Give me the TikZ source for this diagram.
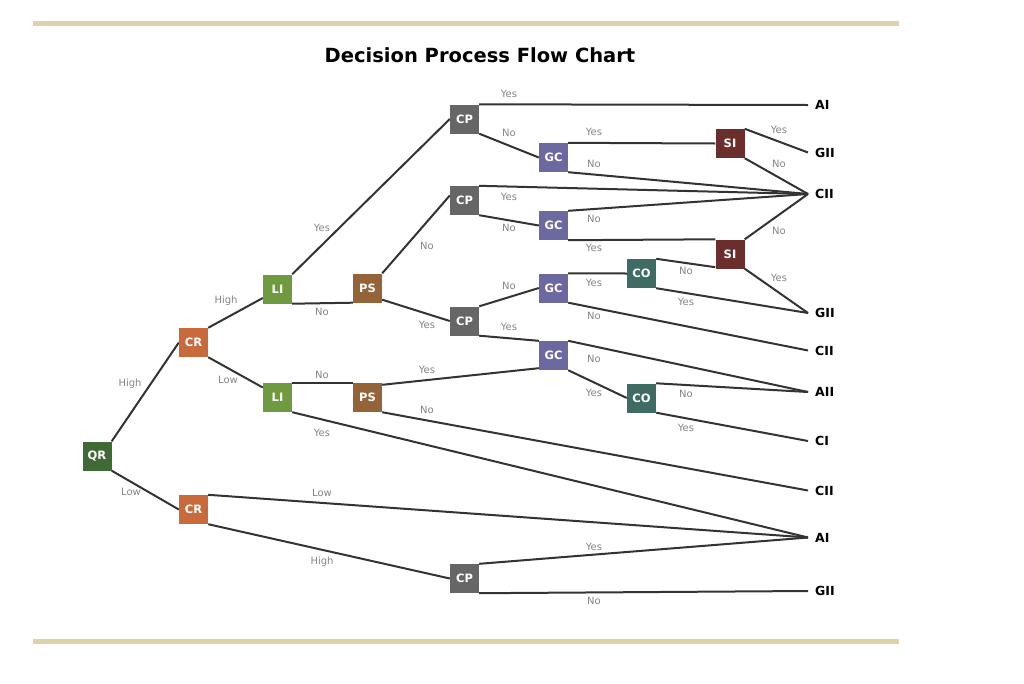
\documentclass[tikz,border=0pt]{standalone}
\usepackage{fontspec}
\setmainfont{DejaVu Sans}
\usetikzlibrary{calc}
\pgfdeclarelayer{back}
\pgfdeclarelayer{bg}
\pgfsetlayers{back,bg,main}
\definecolor{cQR}{HTML}{3F6A35}
\definecolor{cCR}{HTML}{C86A3B}
\definecolor{cLI}{HTML}{6F9A40}
\definecolor{cPS}{HTML}{946337}
\definecolor{cCP}{HTML}{666666}
\definecolor{cGC}{HTML}{6C68A0}
\definecolor{cCO}{HTML}{3E6B63}
\definecolor{cSI}{HTML}{6A2F2D}
\definecolor{rule}{HTML}{DCD3A9}
\definecolor{edgec}{HTML}{333333}
\definecolor{lblc}{HTML}{858585}
\tikzset{
  box/.style={fill=#1, minimum size=29pt, inner sep=0pt, text=white,
    font=\fontsize{11.5}{11.5}\selectfont\bfseries},
  term/.style={anchor=west, inner xsep=7pt, inner ysep=0pt,
    font=\fontsize{12.5}{12.5}\selectfont\bfseries},
  conn/.style={draw=edgec, line width=2pt},
  lbl/.style={text=lblc, font=\fontsize{10}{10}\selectfont, inner sep=0pt},
  rulel/.style={draw=rule, line width=5pt},
}
\begin{document}
\begin{tikzpicture}[x=1pt,y=-1pt]
\useasboundingbox (0,0) rectangle (1024,683);
\begin{pgfonlayer}{back}
\fill[white] (0,0) rectangle (1024,683);
\end{pgfonlayer}
\draw[rulel] (33,23.5) -- (899,23.5);
\draw[rulel] (33,641) -- (899,641);
\node[font=\fontsize{19.5}{19.5}\selectfont\bfseries] (title) at (480,55) {Decision Process Flow Chart};

% decision boxes
\node[box=cQR] (QR) at (97,456) {QR};
\node[box=cCR] (CRa) at (193.5,342.5) {CR};
\node[box=cCR] (CRb) at (193.5,509.5) {CR};
\node[box=cLI] (LIa) at (277.5,289) {LI};
\node[box=cLI] (LIb) at (277.5,397.5) {LI};
\node[box=cPS] (PSa) at (367.5,288) {PS};
\node[box=cPS] (PSb) at (367.5,397.5) {PS};
\node[box=cCP] (CPa) at (464.5,119) {CP};
\node[box=cCP] (CPb) at (464.5,200.5) {CP};
\node[box=cCP] (CPc) at (464.5,321) {CP};
\node[box=cCP] (CPd) at (464.5,578.5) {CP};
\node[box=cGC] (GCa) at (553.5,157.5) {GC};
\node[box=cGC] (GCb) at (553.5,225.5) {GC};
\node[box=cGC] (GCc) at (553.5,288) {GC};
\node[box=cGC] (GCd) at (553.5,355.5) {GC};
\node[box=cCO] (COa) at (641.5,273.5) {CO};
\node[box=cCO] (COb) at (641.5,398) {CO};
\node[box=cSI] (SIa) at (730,143.5) {SI};
\node[box=cSI] (SIb) at (730,254) {SI};

% outcomes
\node[term] (T1) at (808,105) {AI};
\node[term] (T2) at (808,152.5) {GII};
\node[term] (T3) at (808,194) {CII};
\node[term] (T4) at (808,313) {GII};
\node[term] (T5) at (808,350.5) {CII};
\node[term] (T6) at (808,392) {AII};
\node[term] (T7) at (808,441) {CI};
\node[term] (T8) at (808,490.5) {CII};
\node[term] (T9) at (808,537.5) {AI};
\node[term] (T10) at (808,591) {GII};

\begin{pgfonlayer}{bg}
\draw[conn] (QR.north east) -- (CRa.west);
\draw[conn] (QR.south east) -- (CRb.west);
\draw[conn] (CRa.north east) -- ($(LIa.west)+(0,9)$);
\draw[conn] (CRa.south east) -- ($(LIb.west)+(0,-10)$);
\draw[conn] (LIa.north east) -- (CPa.west);
\draw[conn] (LIa.south east) -- (PSa.south west);
\draw[conn] (PSa.north east) -- ($(CPb.west)+(0,-5)$);
\draw[conn] ($(PSa.south east)+(0,-3)$) -- (CPc.west);
\draw[conn] (LIb.north east) -- (PSb.north west);
\draw[conn] (LIb.south east) -- (T9.west);
\draw[conn] ($(PSb.north east)+(0,2)$) -- ($(GCd.south west)+(0,-2)$);
\draw[conn] (PSb.south east) -- (T8.west);
\draw[conn] (CPa.north east) -- (T1.west);
\draw[conn] (CPa.south east) -- (GCa.west);
\draw[conn] (CPb.north east) -- (T3.west);
\draw[conn] (CPb.south east) -- (GCb.west);
\draw[conn] (CPc.north east) -- (GCc.west);
\draw[conn] (CPc.south east) -- (GCd.north west);
\draw[conn] (GCa.north east) -- (SIa.west);
\draw[conn] (GCa.south east) -- (T3.west);
\draw[conn] (GCb.north east) -- (T3.west);
\draw[conn] (GCb.south east) -- (SIb.north west);
\draw[conn] (SIa.north east) -- (T2.west);
\draw[conn] (SIa.south east) -- (T3.west);
\draw[conn] (SIb.north east) -- (T3.west);
\draw[conn] (SIb.south east) -- (T4.west);
\draw[conn] (GCc.north east) -- (COa.west);
\draw[conn] (GCc.south east) -- (T5.west);
\draw[conn] (COa.north east) -- ($(SIb.south west)+(0,-1.5)$);
\draw[conn] (COa.south east) -- (T4.west);
\draw[conn] (GCd.north east) -- (T6.west);
\draw[conn] (GCd.south east) -- (COb.west);
\draw[conn] (COb.north east) -- (T6.west);
\draw[conn] (COb.south east) -- (T7.west);
\draw[conn] (CRb.north east) -- (T9.west);
\draw[conn] (CRb.south east) -- (CPd.west);
\draw[conn] (CPd.north east) -- (T9.west);
\draw[conn] (CPd.south east) -- (T10.west);
\end{pgfonlayer}

% edge labels
\node[lbl] (l1) at (130,384) {High};
\node[lbl] (l2) at (131,492) {Low};
\node[lbl] (l3) at (226,301) {High};
\node[lbl] (l4) at (228,380) {Low};
\node[lbl] (l5) at (322,228) {Yes};
\node[lbl] (l6) at (322,312) {No};
\node[lbl] (l7) at (427,246) {No};
\node[lbl] (l8) at (427,325) {Yes};
\node[lbl] (l9) at (322,375) {No};
\node[lbl] (l10) at (322,433) {Yes};
\node[lbl] (l11) at (427,370) {Yes};
\node[lbl] (l12) at (427,410) {No};
\node[lbl] (l13) at (509,94) {Yes};
\node[lbl] (l14) at (509,133) {No};
\node[lbl] (l15) at (509,197) {Yes};
\node[lbl] (l16) at (509,228) {No};
\node[lbl] (l17) at (509,286) {No};
\node[lbl] (l18) at (509,327) {Yes};
\node[lbl] (l19) at (594,132) {Yes};
\node[lbl] (l20) at (594,164) {No};
\node[lbl] (l21) at (594,219) {No};
\node[lbl] (l22) at (594,248) {Yes};
\node[lbl] (l23) at (779,130) {Yes};
\node[lbl] (l24) at (779,164) {No};
\node[lbl] (l25) at (779,231) {No};
\node[lbl] (l26) at (779,278) {Yes};
\node[lbl] (l27) at (594,283) {Yes};
\node[lbl] (l28) at (594,316) {No};
\node[lbl] (l29) at (686,271) {No};
\node[lbl] (l30) at (686,302) {Yes};
\node[lbl] (l31) at (594,359) {No};
\node[lbl] (l32) at (594,393) {Yes};
\node[lbl] (l33) at (686,394) {No};
\node[lbl] (l34) at (686,428) {Yes};
\node[lbl] (l35) at (322,493) {Low};
\node[lbl] (l36) at (322,562) {High};
\node[lbl] (l37) at (594,547) {Yes};
\node[lbl] (l38) at (594,601) {No};
\end{tikzpicture}
\end{document}
